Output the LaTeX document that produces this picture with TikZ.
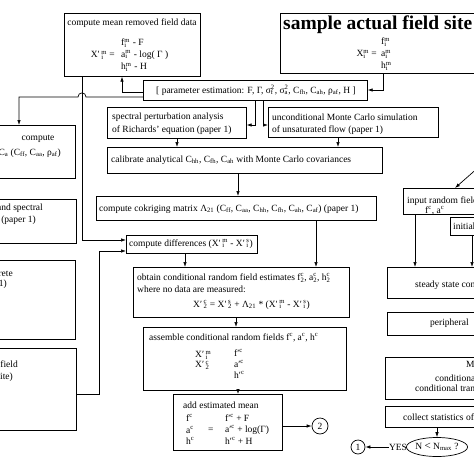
\documentclass[tikz,border=0pt]{standalone}
\usepackage{fontspec}
\setmainfont{Liberation Serif}
\usetikzlibrary{arrows.meta,shapes.geometric}
\newcommand\sbs[1]{\textsubscript{#1}}
\newcommand\sps[1]{\textsuperscript{#1}}
\newcommand\SupSub[2]{\begingroup\setbox0=\hbox{\textsuperscript{#1}}\setbox2=\hbox{\textsubscript{#2}}\ifdim\wd0>\wd2 \rlap{\box2}\box0 \else\rlap{\box0}\box2 \fi\endgroup}
\begin{document}
\begin{tikzpicture}[x=1pt,y=-1pt,font=\fontsize{9.5}{11.5}\selectfont,
  rbox/.style={draw,line width=0.7pt,inner sep=0pt,anchor=north west},
  arr/.style={-{Latex[length=5pt,width=3.5pt]},line width=0.7pt},
  ln/.style={line width=0.7pt},
  tl/.style={inner sep=0pt,anchor=west},
  tr/.style={inner sep=0pt,anchor=east},
  tc/.style={inner sep=0pt,anchor=center}]
\useasboundingbox (0,0) rectangle (474,474);
\clip (0,0) rectangle (474,474);
\fill[white] (0,0) rectangle (474,474);

% ---------- boxes ----------
\node[rbox,minimum width=136pt,minimum height=63pt] (mean) at (64,13) {};
\node[rbox,minimum width=210pt,minimum height=60pt] (site) at (280,13) {};
\node[rbox,minimum width=224pt,minimum height=20pt] (param) at (143,80) {};
\node[rbox,minimum width=95pt,minimum height=53pt] (A) at (-20,125) {};
\node[rbox,minimum width=96pt,minimum height=44pt] (B) at (-20,199) {};
\node[rbox,minimum width=95pt,minimum height=79pt] (C) at (-20,260) {};
\node[rbox,minimum width=96pt,minimum height=82pt] (D) at (-20,348) {};
\node[rbox,minimum width=139pt,minimum height=31pt] (spec) at (107,107) {};
\node[rbox,minimum width=170pt,minimum height=30pt] (mc) at (268,107) {};
\node[rbox,minimum width=275pt,minimum height=26pt] (calib) at (107,147) {};
\node[rbox,minimum width=280pt,minimum height=24pt] (cokrig) at (96,196) {};
\node[rbox,minimum width=131pt,minimum height=18pt] (diff) at (126,235) {};
\node[rbox,minimum width=216pt,minimum height=50pt] (obtain) at (133,267) {};
\node[rbox,minimum width=203pt,minimum height=63pt] (assem) at (143,327) {};
\node[rbox,minimum width=109pt,minimum height=56pt] (add) at (173,394) {};
\node[rbox,minimum width=90pt,minimum height=26pt] (input) at (403,188) {};
\node[rbox,minimum width=40pt,minimum height=18pt] (init) at (450,217) {};
\node[rbox,minimum width=100pt,minimum height=31pt] (steady) at (387,267) {};
\node[rbox,minimum width=100pt,minimum height=23pt] (periph) at (387,312) {};
\node[rbox,minimum width=100pt,minimum height=42pt] (mcbox) at (385,357) {};
\node[rbox,minimum width=100pt,minimum height=21pt] (collect) at (385,406) {};
\node[draw,line width=0.7pt,ellipse,minimum width=60pt,minimum height=19pt,inner sep=0pt] (dec) at (437,447) {N {\fontsize{11}{12}\selectfont<} N\sbs{max} ?};
\node[draw,line width=0.7pt,circle,minimum size=16pt,inner sep=0pt] (c2) at (320,426) {2};
\node[draw,line width=0.7pt,circle,minimum size=14pt,inner sep=0pt] (c1) at (358,447) {1};
\node[tc] (yes) at (398,447) {YES};

% ---------- texts ----------
\node[tc] (t1) at (132,23) {compute mean removed field data};
\node[tr] (t2) at (115,55) {X′\,\SupSub{m}{i} =};
\node[tl] (t3) at (121,43) {f\SupSub{m}{i}\hspace{0.3em}- F};
\node[tl] (t4) at (121,55) {a\SupSub{m}{i}\hspace{0.3em}- log( Γ )};
\node[tl] (t5) at (121,67) {h\SupSub{m}{i}\hspace{0.3em}- H};

\node[tl,font=\fontsize{19.5}{22}\selectfont\bfseries] (t6) at (283,25) {sample actual field site};
\node[tr] (t7) at (377,54) {X\SupSub{m}{i} =};
\node[tl] (t8) at (381,42) {f\SupSub{m}{i}};
\node[tl] (t9) at (381,54) {a\SupSub{m}{i}};
\node[tl] (t10) at (381,66) {h\SupSub{m}{i}};

\node[tc] (t11) at (256,90) {[ parameter estimation: F, Γ, σ\SupSub{2}{f}, σ\SupSub{2}{a}, C\sbs{fh}, C\sbs{ah}, ρ\sbs{af}, H ]};

\node[tc] (t12) at (38,139) {compute};
\node[tr] (t13) at (61,153) {C\sbs{a} (C\sbs{ff}, C\sbs{aa}, ρ\sbs{af})};
\node[tr] (t14) at (43,208) {and spectral};
\node[tr] (t15) at (36,220) {(paper 1)};
\node[tr] (t16) at (13,273) {discrete};
\node[tr] (t17) at (7,284) {(paper 1)};
\node[tr] (t18) at (18,364) {test field};
\node[tr] (t19) at (13,377) {(test site)};

\node[tl] (t20) at (112,117) {spectral perturbation analysis};
\node[tl] (t21) at (112,130) {of Richards' equation (paper 1)};
\node[tl] (t22) at (272,117) {unconditional Monte Carlo simulation};
\node[tl] (t23) at (272,130) {of unsaturated flow (paper 1)};
\node[tl] (t24) at (111,160) {calibrate analytical C\sbs{hh}, C\sbs{fh}, C\sbs{ah} with Monte Carlo covariances};
\node[tl] (t25) at (99,209) {compute cokriging matrix Λ\sbs{21} (C\sbs{ff}, C\sbs{aa}, C\sbs{hh}, C\sbs{fh}, C\sbs{ah}, C\sbs{af}) (paper 1)};
\node[tl] (t26) at (129,244) {compute differences (X′\,\SupSub{m}{i} - X′\,\SupSub{s}{i})};

\node[tl] (t27) at (137,278) {obtain conditional random field estimates f\SupSub{c}{2}, a\SupSub{c}{2}, h\SupSub{c}{2}};
\node[tl] (t28) at (137,289) {where no data are measured:};
\node[tl] (t29) at (193,305) {X′\,\SupSub{c}{2} = X′\,\SupSub{s}{2} + Λ\sbs{21} * (X′\,\SupSub{m}{i} - X′\,\SupSub{s}{i})};

\node[tl] (t30) at (149,338) {assemble conditional random fields f\sps{c}, a\sps{c}, h\sps{c}};
\node[tl] (t31) at (195,355) {X′\,\SupSub{m}{i}};
\node[tl] (t32) at (195,365) {X′\,\SupSub{c}{2}};
\node[tl] (t33) at (234,353) {f′\sps{c}};
\node[tl] (t34) at (234,364) {a′\sps{c}};
\node[tl] (t35) at (234,375) {h′\sps{c}};

\node[tl] (t36) at (183,405) {add estimated mean};
\node[tl] (t37) at (186,418) {f\sps{c}};
\node[tl] (t38) at (186,430) {a\sps{c}};
\node[tl] (t39) at (186,441) {h\sps{c}};
\node[tl] (t40) at (208,430) {=};
\node[tl] (t41) at (225,418) {f′\sps{c} + F};
\node[tl] (t42) at (225,430) {a′\sps{c} + log(Γ)};
\node[tl] (t43) at (225,441) {h′\sps{c} + H};

\node[tl] (t44) at (407,201) {input random field};
\node[tl] (t45) at (425,211) {f\sps{c}, a\sps{c}};
\node[tl] (t46) at (453,226) {initial conditions};
\node[tl] (t47) at (415,285) {steady state conditional};
\node[tl] (t48) at (430,323) {peripheral};
\node[tl] (t49) at (466,364) {MC};
\node[tl] (t50) at (435,378) {conditional};
\node[tl] (t51) at (415,389) {conditional transport};
\node[tl] (t52) at (403,417) {collect statistics of};

% ---------- junction points ----------
\coordinate (j1) at (383,90);
\coordinate (j2) at (122,92);
\coordinate (j3) at (19,97);
\coordinate (j4) at (82,240);
\coordinate (j5) at (99,394);
\coordinate (j6) at (99,251);
\coordinate (j7) at (255,125);
\coordinate (j8) at (263,125);
\coordinate (j9) at (177,0);
\coordinate (j10) at (338,0);
\coordinate (j11) at (238,0);
\coordinate (j12) at (316,0);
\coordinate (j13) at (185,0);
\coordinate (j14) at (236,0);
\coordinate (j15) at (415,0);
\coordinate (j16) at (472,0);
\coordinate (j17) at (480,166);
\coordinate (j18) at (455,0);
\coordinate (j19) at (437,0);

% ---------- connectors ----------
\draw[arr] (site.south -| j1) -- (j1) -- (param.east |- j1);
\draw[arr] (param.west |- j2) -- (j2) -- (mean.south -| j2);
\draw[arr] (param.west |- j3) -- (86,97) .. controls (86,91.5) and (78,91.5) .. (78,97) -- (j3) -- (A.north -| j3);
\draw[arr] (mean.south -| j4) -- (j4) -- (diff.west |- j4);
\draw[arr] (D.east |- j5) -- (j5) -- (j6) -- (diff.west |- j6);
\draw[arr] (param.south -| j7) -- (j7) -- (spec.east |- j7);
\draw[arr] (param.south -| j8) -- (j8) -- (mc.west |- j8);
\draw[arr] (spec.south -| j9) -- (calib.north -| j9);
\draw[arr] (mc.south -| j10) -- (calib.north -| j10);
\draw[arr] (calib.south -| j11) -- (cokrig.north -| j11);
\draw[arr] (cokrig.south -| j12) -- (obtain.north -| j12);
\draw[arr] (diff.south -| j13) -- (obtain.north -| j13);
\draw[arr] (obtain.south -| j14) -- (assem.north -| j14);
\draw[arr] (assem.south -| j11) -- (add.north -| j11);
\draw[arr] (add.east |- c2) -- (c2.west);
\draw[arr] (input.south -| j15) -- (steady.north -| j15);
\draw[arr] (init.south -| j16) -- (steady.north -| j16);
\draw[arr] (j17) -- (input.north -| j18);
\draw[arr] (collect.south -| j19) -- (dec.north);
\draw[arr] (yes.west) -- (c1.east);
\end{tikzpicture}
\end{document}
